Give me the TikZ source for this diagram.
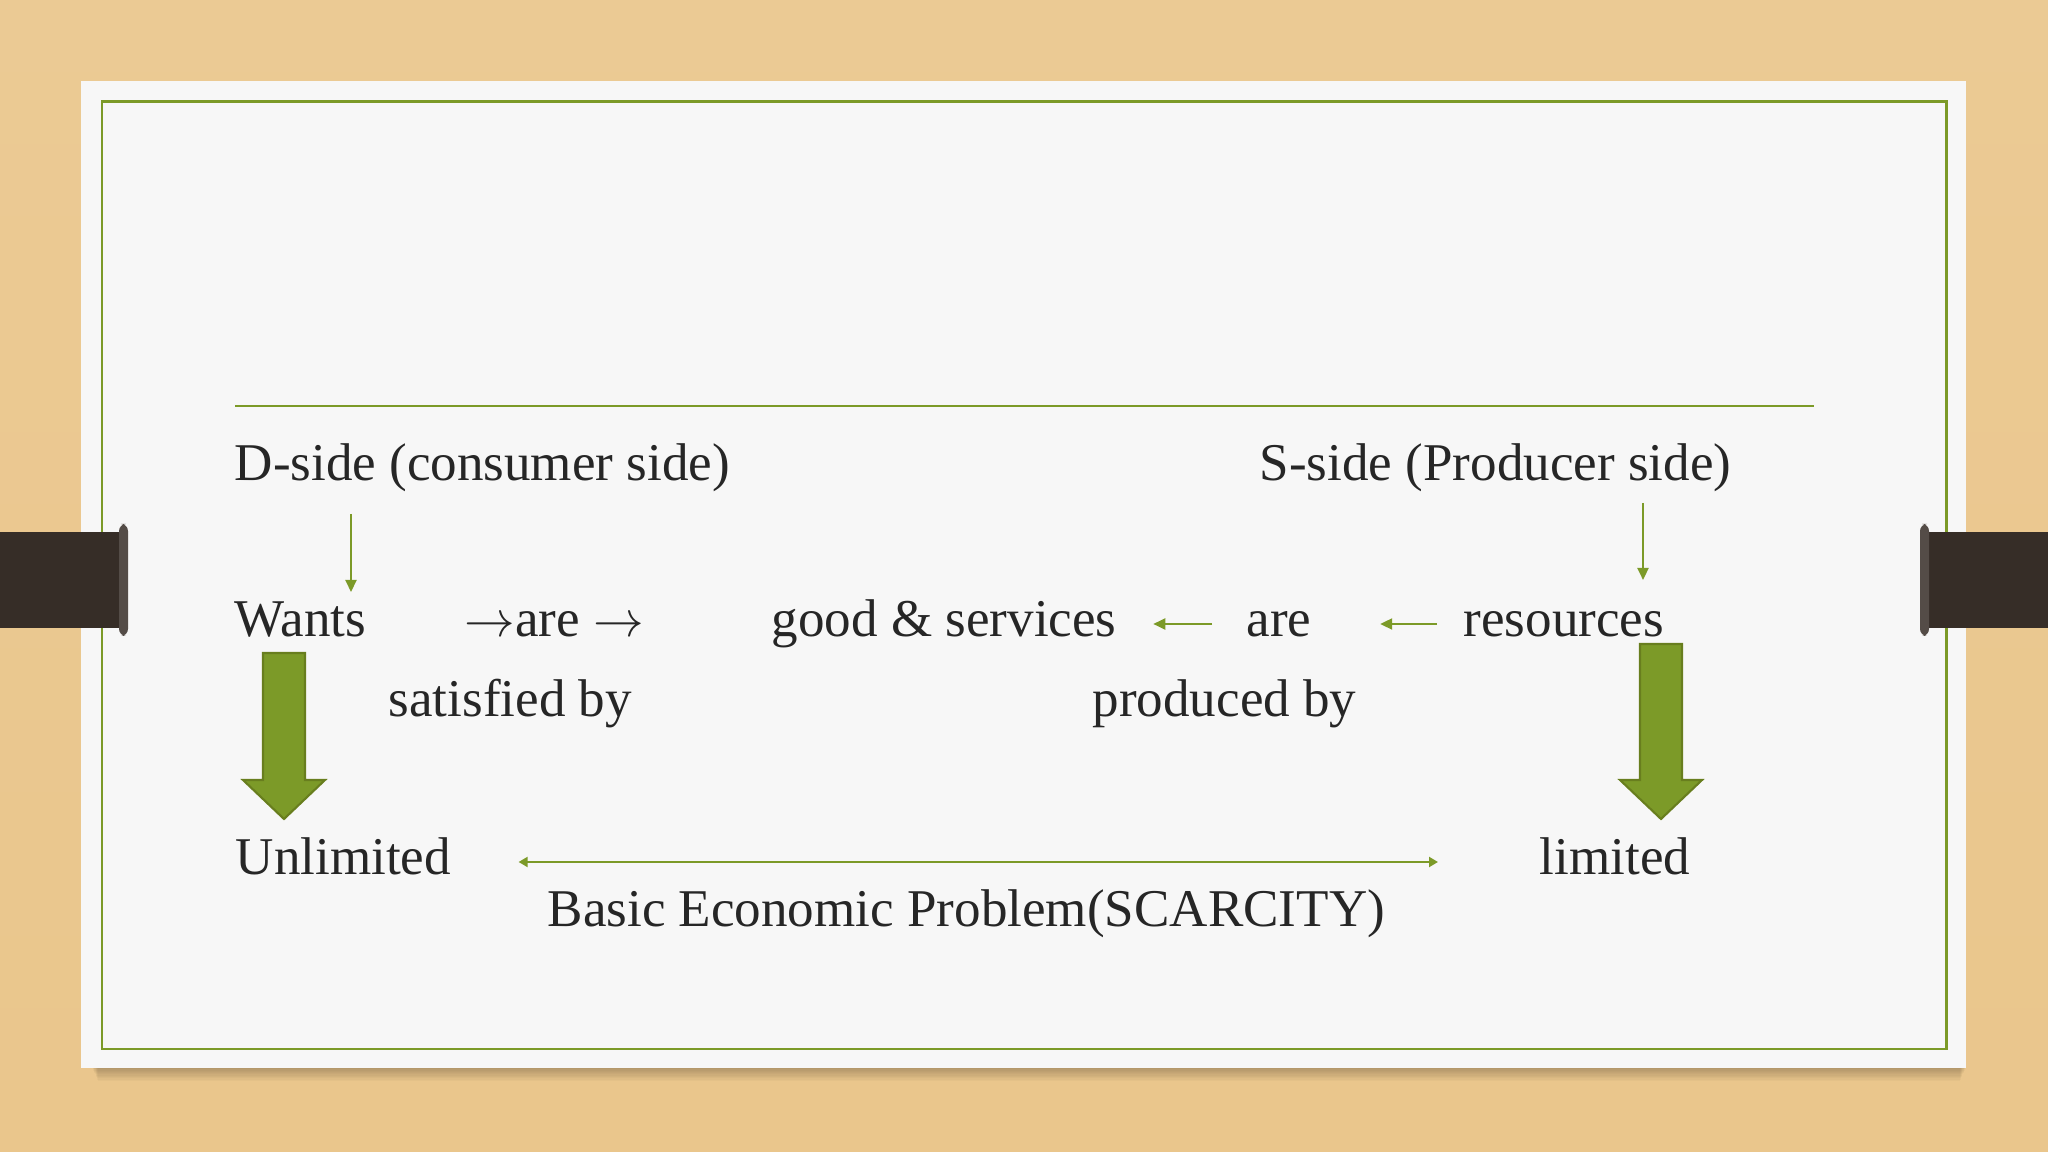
\documentclass[tikz,border=0pt]{standalone}
\usepackage{fontspec}
\setmainfont{Liberation Serif}
\usepackage[dvipsnames]{xcolor}
\usetikzlibrary{arrows.meta}

\definecolor{wood}{RGB}{234,198,140}
\definecolor{woodlight}{RGB}{235,202,148}
\definecolor{paper}{RGB}{247,247,247}
\definecolor{olive}{RGB}{124,154,40}
\definecolor{oliveedge}{RGB}{104,126,30}
\definecolor{ink}{RGB}{38,38,38}
\definecolor{clipbrown}{RGB}{54,45,39}

\tikzset{
	lbl/.style={anchor=base west, inner sep=0pt, text=ink, font=\fontsize{15.1pt}{18pt}\selectfont},
	link/.style={olive, line width=0.6pt, -{Triangle[length=1.2mm, width=1.1mm]}},
	blockarrow/.style={fill=olive, draw=oliveedge, line width=0.6pt},
}

\begin{document}
\begin{tikzpicture}[x=0.1mm, y=-0.1mm]
	\useasboundingbox (0,0) rectangle (2048,1152);
	\shade[top color=woodlight, bottom color=wood] (0,0) rectangle (2048,1152);
	\foreach \i in {1,...,10}
		\fill[black, opacity=0.025] (92+\i*0.6,81+\i) rectangle (1966-\i*0.6,1068+\i*1.3);
	\fill[paper] (81,81) rectangle (1966,1068);
	\draw[olive, line width=0.85pt] (102,102) rectangle (1946,1049);
	\draw[olive, line width=0.75pt] (235,406) -- (1814,406);

	\fill[clipbrown] (0,532) rectangle (124,628);
	\fill[clipbrown!85!white, rounded corners=2pt] (119,524) rectangle (128,636);
	\fill[clipbrown] (1924,532) rectangle (2048,628);
	\fill[clipbrown!85!white, rounded corners=2pt] (1920,524) rectangle (1929,636);

	\node[lbl] (dside) at (234,481) {D-side (consumer side)};
	\node[lbl] (sside) at (1259,481) {S-side (Producer side)};
	\node[lbl] (wants) at (234,637) {Wants};
	\node[lbl] (arelink) at (464,637) {$\rightarrow$are $\rightarrow$};
	\node[lbl] (goods) at (771,637) {good \& services};
	\node[lbl] (are) at (1246,637) {are};
	\node[lbl] (resources) at (1463,637) {resources};
	\node[lbl] (satisfied) at (388,717) {satisfied by};
	\node[lbl] (produced) at (1092,717) {produced by};
	\node[lbl] (unlimited) at (235,875) {Unlimited};
	\node[lbl] (limited) at (1539,875) {limited};
	\node[lbl] (problem) at (547,927) {Basic Economic Problem(SCARCITY)};

	\coordinate (dfrom) at (351,514);
	\coordinate (dto) at (351,592);
	\coordinate (sfrom) at (1643,503);
	\coordinate (sto) at (1643,580);
	\coordinate (midrow) at (0,624);
	\coordinate (lowrow) at (0,862);
	\draw[link] (dfrom) -- (dto);
	\draw[link] (sfrom) -- (sto);
	\draw[link, shorten <=3.4mm, shorten >=3.6mm] (are.west |- midrow) -- (goods.east |- midrow);
	\draw[link, shorten <=2.6mm, shorten >=6.8mm] (resources.west |- midrow) -- (are.east |- midrow);
	\draw[link, {Triangle[length=0.9mm, width=1mm]}-{Triangle[length=0.9mm, width=1mm]}, shorten <=6.7mm, shorten >=10.1mm] (unlimited.east |- lowrow) -- (limited.west |- lowrow);

	\foreach \cx/\ytop in {284/653, 1661/644}
		\filldraw[blockarrow] (\cx-21,\ytop) -- (\cx+21,\ytop) -- (\cx+21,780) -- (\cx+41,780) -- (\cx,819) -- (\cx-41,780) -- (\cx-21,780) -- cycle;
\end{tikzpicture}
\end{document}
